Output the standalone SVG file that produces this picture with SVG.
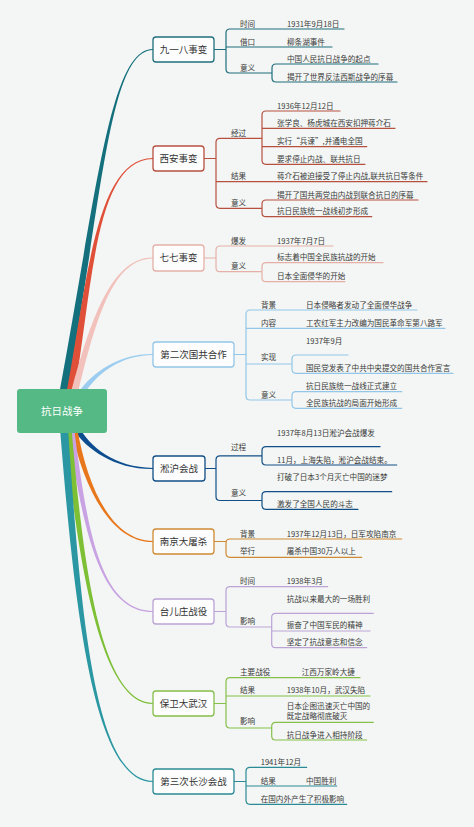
<svg xmlns="http://www.w3.org/2000/svg" width="474" height="827" viewBox="0 0 474 827">
<style>
.bg{fill:#f3f6f4}
.nd{fill:#fdfdfd;stroke-width:1.3}
.nt{font-family:"Noto Sans CJK SC","Noto Sans",sans-serif;font-size:9.5px;fill:#333;text-anchor:middle}
.st{font-family:"Noto Sans CJK SC","Noto Sans",sans-serif;font-size:7.6px;fill:#3a3a3a}
.rt{font-family:"Noto Sans CJK SC","Noto Sans",sans-serif;font-size:10.5px;fill:#fff;text-anchor:middle}
.ln{fill:none;stroke-width:1.2;stroke-linecap:round;stroke-linejoin:round}
.k1{stroke:#1f6f7c}.k2{stroke:#b85040}.k3{stroke:#e6b0a8}.k4{stroke:#93c6e8}.k5{stroke:#124f86}
.k6{stroke:#cf8a34}.k7{stroke:#bba3d6}.k8{stroke:#86bf4a}.k9{stroke:#2b8a95}
</style>
<rect class="bg" x="0" y="0" width="474" height="827"/>
<g id="connectors">
  <path fill="#14707d" d="M66.9,395.7 C102.8,190.5 110,50.5 153,50.1 L153,48.9 C110,48.5 97.2,189.5 59.1,394.3 Z"/>
  <path fill="#e05039" d="M73.9,395.7 C92.8,285.5 95,159.5 153,159.1 L153,157.9 C95,157.5 87.2,284.5 66.1,394.3 Z"/>
  <path fill="#f3c1bb" d="M77.4,395.8 C97.4,310.6 115,259 153,258.6 L153,257.4 C115,257 92.6,309.4 70.6,394.2 Z"/>
  <path fill="#9ccdf0" d="M82.5,396.6 C96.8,373.2 120,355.5 153,355.1 L153,353.9 C120,353.5 93.3,370.9 77.5,393.4 Z"/>
  <path fill="#0b4d8f" d="M73.4,429.5 C86.2,449.1 115,469.5 153,469.1 L153,467.9 C115,467.5 89.8,446.9 78.6,426.5 Z"/>
  <path fill="#e8771c" d="M71.1,428.6 C82.9,485.4 110,542.5 153,542.1 L153,540.9 C110,540.5 87.1,484.6 77,427.4 Z"/>
  <path fill="#c8a2e2" d="M68,428.4 C82.9,530.3 100,612.5 153,612.1 L153,610.9 C100,610.5 87.1,529.7 74,427.6 Z"/>
  <path fill="#7dbf35" d="M64.5,428.3 C77.6,560.2 100,704.5 153,704.1 L153,702.9 C100,702.5 82.4,559.8 71.5,427.7 Z"/>
  <path fill="#2a97a3" d="M60,428.3 C75.2,620.2 95,782.5 153,782.1 L153,780.9 C95,780.5 80.8,619.8 68,427.7 Z"/>

  <path class="ln k1" d="M214,49.5 H226 M344,29 H230 Q226,29 226,33 V69 Q226,73 230,73 H272 M226,47 H332 M378,64 H276 Q272,64 272,68 V78 Q272,82 276,82 H397"/>
  <path class="ln k2" d="M204,158.5 H216 M262,138.3 H220 Q216,138.3 216,142.3 V204.3 Q216,208.3 220,208.3 H262 M216,181.7 H427 M340,111 H266 Q262,111 262,115 V160.3 Q262,164.3 266,164.3 H365 M262,128.3 H395 M262,146.7 H366.7 M418,200 H266 Q262,200 262,204 V212.7 Q262,216.7 266,216.7 H371.7"/>
  <path class="ln k3" d="M204,258 H216 M333,246 H220 Q216,246 216,250 V267.7 Q216,271.7 220,271.7 H262 M383,262.7 H266 Q262,262.7 262,266.7 V277.7 Q262,281.7 266,281.7 H345"/>
  <path class="ln k4" d="M234,354.5 H246 M417,310 H250 Q246,310 246,314 V396 Q246,400 250,400 H292 M246,328.3 H445 M246,364 H292 M348,355 H296 Q292,355 292,359 V369.3 Q292,373.3 296,373.3 H453 M401.7,391.7 H296 Q292,391.7 292,395.7 V404.3 Q292,408.3 296,408.3 H401.7"/>
  <path class="ln k5" d="M205,468.5 H216 M262,455.8 H220 Q216,455.8 216,459.8 V496.5 Q216,500.5 220,500.5 H262 M380,446.7 H266 Q262,446.7 262,450.7 V461 Q262,465 266,465 H396.7 M391.7,491.7 H266 Q262,491.7 262,495.7 V505.3 Q262,509.3 266,509.3 H358"/>
  <path class="ln k6" d="M214,541.5 H226 M401.7,539 H230 Q226,539 226,543 V553.3 Q226,557.3 230,557.3 H361.7"/>
  <path class="ln k7" d="M214,611.5 H226 M327.7,586.7 H230 Q226,586.7 226,590.7 V623 Q226,627 230,627 H271.7 M373.3,613.3 H275.7 Q271.7,613.3 271.7,617.3 V643.7 Q271.7,647.7 275.7,647.7 H366.7 M271.7,631 H370"/>
  <path class="ln k8" d="M214,703.5 H226 M360,677.7 H230 Q226,677.7 226,681.7 V724 Q226,728 230,728 H271.7 M226,696 H370 M373.3,722.3 H275.7 Q271.7,722.3 271.7,726.3 V736 Q271.7,740 275.7,740 H366.7"/>
  <path class="ln k9" d="M234,781.5 H246 M306.7,767.3 H250 Q246,767.3 246,771.3 V800.3 Q246,804.3 250,804.3 H346.7 M246,786 H336.7"/>
</g>

<g id="root"><rect x="17" y="389" width="90" height="44" rx="3" fill="#54b984"/><text class="rt" x="62" y="414.7">抗日战争</text></g>

<g id="n1"><rect class="nd k1" x="153" y="37" width="61" height="25" rx="3"/><text class="nt" x="183.5" y="52.9">九一八事变</text></g>
<g id="n1-a"><text class="st" x="240" y="26.5">时间</text><text class="st" x="287" y="26.5">1931年9月18日</text></g>
<g id="n1-b"><text class="st" x="240" y="44.5">借口</text><text class="st" x="287" y="44.5">柳条湖事件</text></g>
<g id="n1-c"><text class="st" x="240" y="70.5">意义</text><text class="st" x="287" y="61.5">中国人民抗日战争的起点</text><text class="st" x="287" y="79.5">揭开了世界反法西斯战争的序幕</text></g>

<g id="n2"><rect class="nd k2" x="153" y="146" width="51" height="25" rx="3"/><text class="nt" x="178.5" y="161.9">西安事变</text></g>
<g id="n2-a"><text class="st" x="231" y="135.5">经过</text><text class="st" x="277" y="108.5">1936年12月12日</text><text class="st" x="277" y="125.8">张学良、杨虎城在西安扣押蒋介石</text><text class="st" x="277" y="144.2">实行“兵谏”,并通电全国</text><text class="st" x="277" y="161.8">要求停止内战、联共抗日</text></g>
<g id="n2-b"><text class="st" x="231" y="179.2">结果</text><text class="st" x="277" y="179.2">蒋介石被迫接受了停止内战,联共抗日等条件</text></g>
<g id="n2-c"><text class="st" x="231" y="205.8">意义</text><text class="st" x="277" y="197.5">揭开了国共两党由内战到联合抗日的序幕</text><text class="st" x="277" y="214.2">抗日民族统一战线初步形成</text></g>

<g id="n3"><rect class="nd k3" x="153" y="245" width="51" height="26" rx="3"/><text class="nt" x="178.5" y="261.4">七七事变</text></g>
<g id="n3-a"><text class="st" x="231" y="243.5">爆发</text><text class="st" x="277" y="243.5">1937年7月7日</text></g>
<g id="n3-b"><text class="st" x="231" y="269.2">意义</text><text class="st" x="277" y="260.2">标志着中国全民族抗战的开始</text><text class="st" x="277" y="279.2">日本全面侵华的开始</text></g>

<g id="n4"><rect class="nd k4" x="153" y="342" width="81" height="25" rx="3"/><text class="nt" x="193.5" y="357.9">第二次国共合作</text></g>
<g id="n4-a"><text class="st" x="261" y="307.5">背景</text><text class="st" x="306" y="307.5">日本侵略者发动了全面侵华战争</text></g>
<g id="n4-b"><text class="st" x="261" y="325.8">内容</text><text class="st" x="306" y="325.8">工农红军主力改编为国民革命军第八路军</text></g>
<g id="n4-c"><text class="st" x="261" y="360">实现</text><text class="st" x="306" y="344">1937年9月</text><text class="st" x="306" y="370.8">国民党发表了中共中央提交的国共合作宣言</text></g>
<g id="n4-d"><text class="st" x="261" y="397.5">意义</text><text class="st" x="306" y="389">抗日民族统一战线正式建立</text><text class="st" x="306" y="406">全民族抗战的局面开始形成</text></g>

<g id="n5"><rect class="nd k5" x="153" y="456" width="52" height="25" rx="3"/><text class="nt" x="179" y="471.9">淞沪会战</text></g>
<g id="n5-a"><text class="st" x="231" y="450">过程</text><text class="st" x="277" y="436">1937年8月13日淞沪会战爆发</text><text class="st" x="277" y="462.5">11月，上海失陷，淞沪会战结束。</text></g>
<g id="n5-b"><text class="st" x="231" y="496">意义</text><text class="st" x="277" y="479.5">打破了日本3个月灭亡中国的迷梦</text><text class="st" x="277" y="506.5">激发了全国人民的斗志</text></g>

<g id="n6"><rect class="nd k6" x="153" y="529" width="61" height="25" rx="3"/><text class="nt" x="183.5" y="544.9">南京大屠杀</text></g>
<g id="n6-a"><text class="st" x="240" y="536.5">背景</text><text class="st" x="286.7" y="536.5">1937年12月13日，日军攻陷南京</text></g>
<g id="n6-b"><text class="st" x="240" y="553.5">举行</text><text class="st" x="286.7" y="553.5">屠杀中国30万人以上</text></g>

<g id="n7"><rect class="nd k7" x="153" y="599" width="61" height="25" rx="3"/><text class="nt" x="183.5" y="614.9">台儿庄战役</text></g>
<g id="n7-a"><text class="st" x="240" y="583.5">时间</text><text class="st" x="286.7" y="583.5">1938年3月</text></g>
<g id="n7-b"><text class="st" x="240" y="623.5">影响</text><text class="st" x="286.7" y="601.5">抗战以来最大的一场胜利</text><text class="st" x="286.7" y="628">振奋了中国军民的精神</text><text class="st" x="286.7" y="645">坚定了抗战意志和信念</text></g>

<g id="n8"><rect class="nd k8" x="153" y="691" width="61" height="25" rx="3"/><text class="nt" x="183.5" y="706.9">保卫大武汉</text></g>
<g id="n8-a"><text class="st" x="240" y="674.5">主要战役</text><text class="st" x="301.7" y="674.5">江西万家岭大捷</text></g>
<g id="n8-b"><text class="st" x="240" y="692.5">结果</text><text class="st" x="286.7" y="692.5">1938年10月，武汉失陷</text></g>
<g id="n8-c"><text class="st" x="240" y="723.5">影响</text><text class="st" x="286.7" y="709.3">日本企图迅速灭亡中国的</text><text class="st" x="286.7" y="719.3">既定战略彻底破灭</text><text class="st" x="286.7" y="737.5">抗日战争进入相持阶段</text></g>

<g id="n9"><rect class="nd k9" x="153" y="769" width="81" height="25" rx="3"/><text class="nt" x="193.5" y="784.9">第三次长沙会战</text></g>
<g id="n9-a"><text class="st" x="260.7" y="765.3">1941年12月</text></g>
<g id="n9-b"><text class="st" x="260.7" y="783.5">结果</text><text class="st" x="306" y="783.5">中国胜利</text></g>
<g id="n9-c"><text class="st" x="260.7" y="801.5">在国内外产生了积极影响</text></g>
</svg>
